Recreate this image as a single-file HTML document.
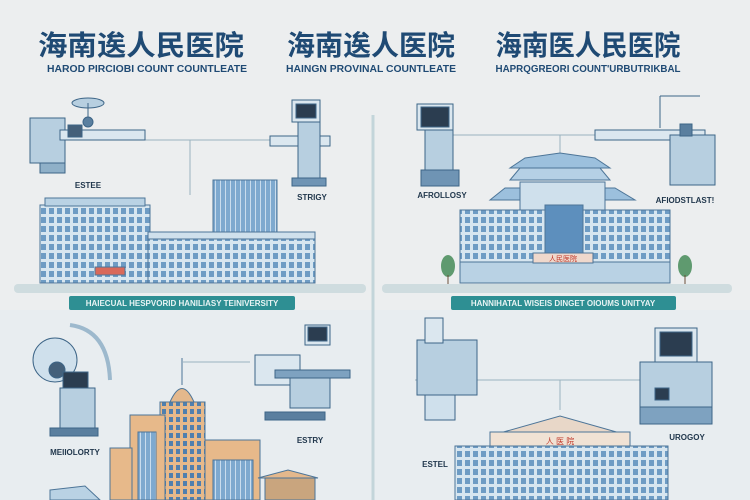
<!DOCTYPE html>
<html><head><meta charset="utf-8"><style>
html,body{margin:0;padding:0;background:#eceeef;}
svg{display:block}
text{font-family:"Liberation Sans","Noto Sans CJK SC",sans-serif}
</style></head><body>
<svg width="750" height="500" viewBox="0 0 750 500" xmlns="http://www.w3.org/2000/svg">
<defs>
<pattern id="win" width="8" height="9" patternUnits="userSpaceOnUse"><rect width="8" height="9" fill="#d7e6f0"/><rect x="1" y="1" width="5" height="6" fill="#6e9cc4"/></pattern>
<pattern id="win2" width="7" height="8" patternUnits="userSpaceOnUse"><rect width="7" height="8" fill="#e7b98a"/><rect x="1" y="1" width="4" height="5" fill="#4f7fae"/></pattern>
<pattern id="vstripe" width="5" height="10" patternUnits="userSpaceOnUse"><rect width="5" height="10" fill="#7ea9cf"/><rect width="1" height="10" fill="#c9dced"/></pattern>
</defs>
<rect width="750" height="500" fill="#eceeef"/>
<rect y="310" width="750" height="190" fill="#e8edf0"/>
<!-- titles -->
<g font-weight="bold" fill="#1f4a74">
<text x="141" y="55" font-size="28" text-anchor="middle" textLength="206" lengthAdjust="spacingAndGlyphs">海南逘人民医院</text>
<text x="371" y="55" font-size="28" text-anchor="middle" textLength="168" lengthAdjust="spacingAndGlyphs">海南逘人医院</text>
<text x="588" y="55" font-size="28" text-anchor="middle" textLength="185" lengthAdjust="spacingAndGlyphs">海南医人民医院</text>
<text x="147" y="72" font-size="10" text-anchor="middle" textLength="200" lengthAdjust="spacingAndGlyphs">HAROD PIRCIOBI COUNT COUNTLEATE</text>
<text x="371" y="72" font-size="10" text-anchor="middle" textLength="170" lengthAdjust="spacingAndGlyphs">HAINGN PROVINAL COUNTLEATE</text>
<text x="588" y="72" font-size="10" text-anchor="middle" textLength="185" lengthAdjust="spacingAndGlyphs">HAPRQGREORI COUNT'URBUTRIKBAL</text>
</g>
<!-- divider -->
<line x1="373" y1="115" x2="373" y2="500" stroke="#c3d5da" stroke-width="3"/>
<!-- ground bars -->
<rect x="14" y="284" width="352" height="9" rx="4" fill="#cfdcdf"/>
<rect x="382" y="284" width="350" height="9" rx="4" fill="#cfdcdf"/>
<!-- teal labels -->
<rect x="69" y="296" width="226" height="14" rx="2" fill="#2e8f93"/>
<text x="182" y="306" font-size="8" fill="#e8f4f4" text-anchor="middle" font-weight="bold">HAIECUAL HESPVORID HANILIASY TEINIVERSITY</text>
<rect x="451" y="296" width="225" height="14" rx="2" fill="#2e8f93"/>
<text x="563" y="306" font-size="8" fill="#e8f4f4" text-anchor="middle" font-weight="bold">HANNIHATAL WISEIS DINGET OIOUMS UNITYAY</text>
<!-- connector lines -->
<g stroke="#9ab3bf" stroke-width="1" fill="none">
<line x1="135" y1="140" x2="270" y2="140"/><line x1="190" y1="140" x2="190" y2="195"/>
<line x1="450" y1="135" x2="660" y2="135"/><line x1="560" y1="135" x2="560" y2="158"/>
<line x1="183" y1="362" x2="250" y2="362"/>
<line x1="560" y1="380" x2="655" y2="380"/><line x1="560" y1="380" x2="560" y2="410"/>
<line x1="415" y1="380" x2="560" y2="380"/>
</g>
<!-- top-left equipment -->
<g stroke="#3d6587" stroke-width="1" fill="#b7cfe0">
<ellipse cx="88" cy="103" rx="16" ry="5"/>
<line x1="88" y1="103" x2="88" y2="120"/>
<circle cx="88" cy="122" r="5" fill="#5a7f9f"/>
<rect x="30" y="118" width="35" height="45"/>
<rect x="40" y="163" width="25" height="10" fill="#8fb0c8"/>
<rect x="60" y="130" width="85" height="10" fill="#dbe7ef"/>
<rect x="68" y="125" width="14" height="12" fill="#44607a"/>
<rect x="292" y="100" width="28" height="22" fill="#dbe7ef"/><rect x="296" y="104" width="20" height="14" fill="#2b3d50"/>
<rect x="270" y="136" width="60" height="10" fill="#dbe7ef"/>
<rect x="298" y="122" width="22" height="56" fill="#b7cfe0"/>
<rect x="292" y="178" width="34" height="8" fill="#6f94b4"/>
<!-- top right equipment -->
<rect x="417" y="104" width="36" height="26" fill="#dbe7ef"/><rect x="421" y="107" width="28" height="20" fill="#2b3d50"/>
<rect x="425" y="130" width="28" height="55" fill="#b7cfe0"/>
<rect x="421" y="170" width="38" height="16" fill="#6f94b4"/>
<line x1="660" y1="96" x2="660" y2="128"/><line x1="660" y1="96" x2="700" y2="96"/>
<rect x="595" y="130" width="110" height="10" fill="#dbe7ef"/>
<rect x="670" y="135" width="45" height="50" fill="#b7cfe0"/>
<rect x="680" y="124" width="12" height="12" fill="#5a7f9f"/>
</g>
<g font-size="8" font-weight="bold" fill="#22384d" text-anchor="middle">
<text x="88" y="188">ESTEE</text><text x="312" y="200">STRIGY</text>
<text x="442" y="198">AFROLLOSY</text><text x="685" y="203">AFIODSTLAST!</text>
<text x="75" y="455">MEIIOLORTY</text><text x="310" y="443">ESTRY</text>
<text x="435" y="467">ESTEL</text><text x="687" y="440">UROGOY</text>
</g>
<!-- top-left buildings -->
<g stroke="#4d7598" stroke-width="1">
<rect x="40" y="205" width="110" height="78" fill="url(#win)"/>
<rect x="45" y="198" width="100" height="8" fill="#b9d2e4"/>
<rect x="213" y="180" width="64" height="103" fill="url(#vstripe)"/>
<rect x="148" y="238" width="167" height="45" fill="url(#win)"/>
<rect x="148" y="232" width="167" height="7" fill="#cfe0ec"/>
<rect x="95" y="267" width="30" height="8" fill="#d9695a"/>
</g>
<!-- top-right building -->
<g stroke="#4d7598" stroke-width="1">
<polygon points="525,158 560,153 595,158 610,168 510,168" fill="#9cc0dd"/>
<polygon points="510,180 520,168 600,168 610,180" fill="#b5d0e5"/>
<polygon points="490,200 505,188 615,188 635,200" fill="#9cc0dd"/>
<rect x="460" y="210" width="210" height="73" fill="url(#win)"/>
<rect x="520" y="182" width="85" height="28" fill="#cfe0ec"/>
<rect x="545" y="205" width="38" height="55" fill="#5d8fbd"/>
<rect x="460" y="262" width="210" height="21" fill="#b9d2e4"/>
<rect x="533" y="253" width="60" height="10" fill="#efd8cc"/>
</g>
<text x="563" y="261" font-size="7" fill="#c0392b" text-anchor="middle">人民医院</text>
<g fill="#5f9a6f"><ellipse cx="448" cy="266" rx="7" ry="11"/><ellipse cx="685" cy="266" rx="7" ry="11"/></g>
<g stroke="#6a4e3a"><line x1="448" y1="275" x2="448" y2="284"/><line x1="685" y1="275" x2="685" y2="284"/></g>
<!-- bottom-left equipment -->
<g stroke="#3d6587" stroke-width="1" fill="#b7cfe0">
<circle cx="55" cy="360" r="22" fill="#cfe0ec"/><circle cx="57" cy="370" r="8" fill="#44607a"/>
<path d="M70 325 Q108 330 110 380" fill="none" stroke-width="4" stroke="#9db9cd"/>
<rect x="63" y="372" width="25" height="16" fill="#2b3d50"/>
<rect x="60" y="388" width="35" height="40" fill="#b7cfe0"/>
<rect x="50" y="428" width="48" height="8" fill="#5a7f9f"/>
<rect x="305" y="325" width="25" height="20" fill="#dbe7ef"/><rect x="308" y="327" width="19" height="14" fill="#2b3d50"/>
<rect x="255" y="355" width="45" height="30" fill="#dbe7ef"/>
<rect x="275" y="370" width="75" height="8" fill="#7ea2c0"/>
<rect x="290" y="378" width="40" height="30" fill="#b7cfe0"/>
<rect x="265" y="412" width="60" height="8" fill="#5a7f9f"/>
<!-- bottom right -->
<rect x="417" y="340" width="60" height="55" fill="#b7cfe0"/>
<rect x="425" y="318" width="18" height="25" fill="#dbe7ef"/>
<rect x="425" y="395" width="30" height="25" fill="#cfe0ec"/>
<rect x="655" y="328" width="42" height="34" fill="#dbe7ef"/><rect x="660" y="332" width="32" height="24" fill="#2b3d50"/>
<rect x="640" y="362" width="72" height="45" fill="#b7cfe0"/>
<rect x="655" y="388" width="14" height="12" fill="#2b3d50"/>
<rect x="640" y="407" width="72" height="17" fill="#7ea2c0"/>
</g>
<!-- bottom-left tower -->
<g stroke="#4d7598" stroke-width="1">
<line x1="182" y1="358" x2="182" y2="385"/>
<path d="M170 402 Q182 375 194 402 Z" fill="#e4b88c"/>
<rect x="160" y="402" width="45" height="98" fill="url(#win2)"/>
<rect x="130" y="415" width="35" height="85" fill="#e7b98a"/>
<rect x="138" y="432" width="18" height="68" fill="url(#vstripe)"/>
<rect x="110" y="448" width="22" height="52" fill="#e7b98a"/>
<rect x="205" y="440" width="55" height="60" fill="#e7b98a"/>
<rect x="213" y="460" width="40" height="40" fill="url(#vstripe)"/>
<polygon points="258,478 288,470 318,478" fill="#e4b88c"/>
<rect x="265" y="478" width="50" height="22" fill="#c9a57e"/>
<polygon points="50,490 85,486 100,500 50,500" fill="#b9d2e4"/>
</g>
<!-- bottom-right building -->
<g stroke="#4d7598" stroke-width="1">
<polygon points="500,433 560,416 620,433" fill="#e8d7c8"/>
<rect x="490" y="432" width="140" height="15" fill="#f0e2d4"/>
<rect x="455" y="446" width="213" height="54" fill="url(#win)"/>
</g>
<text x="560" y="444" font-size="8" fill="#c0392b" text-anchor="middle">人 医 院</text>
</svg>
</body></html>
